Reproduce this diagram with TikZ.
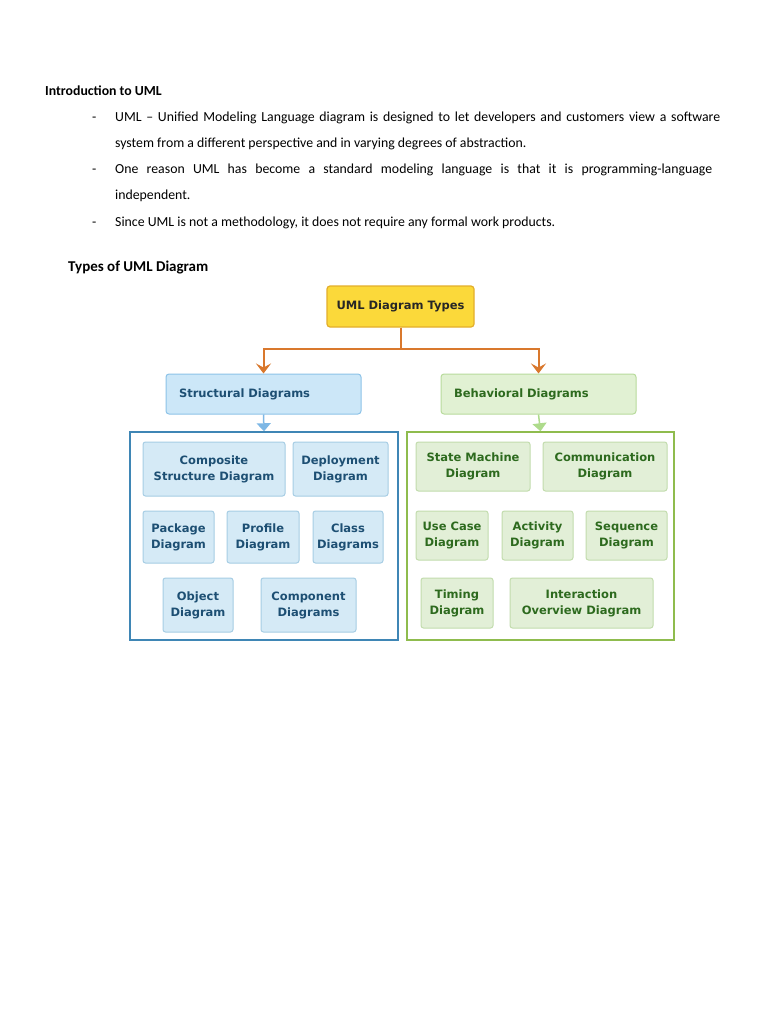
\documentclass[tikz,border=0pt]{standalone}
\usepackage{fontspec}
\setmainfont{Carlito}
\newfontfamily\dfont{DejaVu Sans}
\usetikzlibrary{arrows.meta}
\definecolor{orangeln}{HTML}{D9782D}
\definecolor{yfill}{HTML}{FBD93A}
\definecolor{ydraw}{HTML}{E3AE2B}
\definecolor{bhfill}{HTML}{CCE7F8}
\definecolor{bhdraw}{HTML}{8DC3E8}
\definecolor{btext}{HTML}{1D4F73}
\definecolor{bcontc}{HTML}{3F86B5}
\definecolor{bin}{HTML}{D5EAF6}
\definecolor{bindraw}{HTML}{A6CDE4}
\definecolor{barr}{HTML}{7DB7E5}
\definecolor{ghfill}{HTML}{E1F1D3}
\definecolor{ghdraw}{HTML}{B8DB9C}
\definecolor{gtext}{HTML}{2D6A1E}
\definecolor{gcontc}{HTML}{8FBC4E}
\definecolor{gin}{HTML}{E2EFD7}
\definecolor{gindraw}{HTML}{C2DCAD}
\definecolor{garr}{HTML}{AEDB8C}
\begin{document}
\begin{tikzpicture}[x=1pt,y=-1pt,
  body/.style={anchor=base west,inner sep=0pt,font=\fontsize{13.8}{16}\selectfont},
  head/.style={anchor=base west,inner sep=0pt,font=\fontsize{13.8}{16}\selectfont\bfseries},
  bullet/.style={anchor=base west,inner sep=0pt,font=\fontsize{13.8}{16}\selectfont},
  dtext/.style={font=\dfont\bfseries\fontsize{11.5}{16}\selectfont,align=center,inner sep=0pt},
  topbox/.style={dtext,draw=ydraw,fill=yfill,line width=1.2pt,rounded corners=3pt,minimum width=147pt,minimum height=41pt,text=black!85},
  hdrbox/.style={dtext,line width=1pt,rounded corners=3pt,minimum width=195pt,minimum height=40pt,text width=169pt,align=left},
  sbox/.style={hdrbox,draw=bhdraw,fill=bhfill,text=btext},
  bbox/.style={hdrbox,draw=ghdraw,fill=ghfill,text=gtext},
  scontbox/.style={draw=bcontc,line width=1.5pt,fill=white,minimum width=268pt,minimum height=208pt,inner sep=0pt},
  gcontbox/.style={draw=gcontc,line width=1.5pt,fill=white,minimum width=267pt,minimum height=208pt,inner sep=0pt},
  sin/.style={dtext,draw=bindraw,fill=bin,line width=1pt,rounded corners=2.5pt,text=btext},
  gsin/.style={dtext,draw=gindraw,fill=gin,line width=1pt,rounded corners=2.5pt,text=gtext},
  oarr/.style={draw=orangeln,line width=2pt,-{Stealth[length=10pt,width=15pt,inset=4pt]}},
  barrow/.style={draw=barr,line width=1.5pt,-{Triangle[length=8pt,width=14pt]}},
  garrow/.style={draw=garr,line width=1.5pt,-{Triangle[length=8pt,width=14pt]}}
]
\fill[white] (0,0) rectangle (768,1024);
\useasboundingbox (0,0) rectangle (768,1024);

% text
\node[head] (intro) at (45,96) {Introduction to UML};
\node[bullet] (d1) at (92,122) {-};
\node[body] (l1) at (115,122) {\makebox[605pt][s]{UML – Unified Modeling Language diagram is designed to let developers and customers view a software}};
\node[body] (l2) at (115,148) {system from a different perspective and in varying degrees of abstraction.};
\node[bullet] (d2) at (92,174) {-};
\node[body] (l3) at (115,174) {\makebox[597pt][s]{One reason UML has become a standard modeling language is that it is programming-language}};
\node[body] (l4) at (115,200) {independent.};
\node[bullet] (d3) at (92,226) {-};
\node[body] (l5) at (115,226) {Since UML is not a methodology, it does not require any formal work products.};
\node[head,font=\fontsize{15}{17}\selectfont\bfseries] (types) at (68,271) {Types of UML Diagram};

% diagram
\node[topbox] (top) at (400.5,306.5) {UML Diagram Types};
\node[sbox] (struct) at (263.5,394) {Structural Diagrams};
\node[bbox] (behav) at (538.5,394) {Behavioral Diagrams};

\node[scontbox] (scont) at (264,536) {};
\node[gcontbox] (gcont) at (540.5,536) {};

\draw[oarr] (top.south) -- ++(0,21) -| (struct.north);
\draw[oarr] (top.south) -- ++(0,21) -| (behav.north);
\draw[barrow] (struct.south) -- (scont.north);
\draw[garrow] (behav.south) -- (gcont.north);

% structural inner
\node[sin,minimum width=142pt,minimum height=54pt] (comp) at (214,469) {Composite\\Structure Diagram};
\node[sin,minimum width=95pt,minimum height=54pt] (depl) at (340.5,469) {Deployment\\Diagram};
\node[sin,minimum width=71pt,minimum height=52pt] (pack) at (178.5,537) {Package\\Diagram};
\node[sin,minimum width=72pt,minimum height=52pt] (prof) at (263,537) {Profile\\Diagram};
\node[sin,minimum width=70pt,minimum height=52pt] (clas) at (348,537) {Class\\Diagrams};
\node[sin,minimum width=70pt,minimum height=54pt] (obj) at (198,605) {Object\\Diagram};
\node[sin,minimum width=95pt,minimum height=54pt] (compo) at (308.5,605) {Component\\Diagrams};

% behavioral inner
\node[gsin,minimum width=114pt,minimum height=49pt] (sm) at (473,466.5) {State Machine\\Diagram};
\node[gsin,minimum width=124pt,minimum height=49pt] (comm) at (605,466.5) {Communication\\Diagram};
\node[gsin,minimum width=72pt,minimum height=49pt] (uc) at (452,535.5) {Use Case\\Diagram};
\node[gsin,minimum width=71pt,minimum height=49pt] (act) at (537.5,535.5) {Activity\\Diagram};
\node[gsin,minimum width=81pt,minimum height=49pt] (seq) at (626.5,535.5) {Sequence\\Diagram};
\node[gsin,minimum width=72pt,minimum height=50pt] (tim) at (457,603) {Timing\\Diagram};
\node[gsin,minimum width=143pt,minimum height=50pt] (io) at (581.5,603) {Interaction\\Overview Diagram};
\end{tikzpicture}
\end{document}
